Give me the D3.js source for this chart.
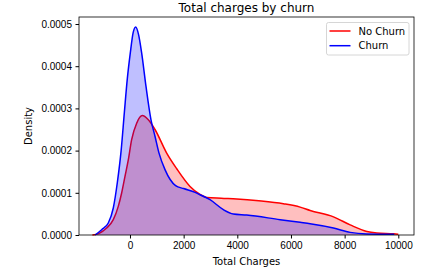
<!DOCTYPE html>
<html>
<head>
<meta charset="utf-8">
<script src="https://cdn.jsdelivr.net/npm/d3@7"></script>
<style>
  body { margin: 0; background: #fff; }
  svg { font-family: "DejaVu Sans", sans-serif; }
  .axis path, .axis line { stroke: #000; }
  .axis text { font-size: 10px; fill: #000; }
</style>
</head>
<body>
<div id="chart"></div>
<script>
// Total charges KDE by churn
var noChurnCharges = [-1400, -1150, -870, -622, -436, -311, -186, -63, 62, 249, 460, 683, 932, 1368, 1741, 2238, 2611, 2860, 3400, 3980, 4800, 5718, 6341, 6714, 7584, 8206, 8828, 9200, 9821, 10000];
var noChurnDensity = [0, 0.000004, 0.0000166, 0.0000363, 0.0000678, 0.0000995, 0.000139, 0.000178, 0.000226, 0.000265, 0.000283, 0.000273, 0.000250, 0.000194, 0.000157, 0.000115, 0.000096, 0.000089, 0.000087, 0.0000853, 0.000081, 0.000074, 0.000066, 0.000058, 0.000043, 0.000024, 0.0000085, 0.000005, 0.000003, 0.000002];

var churnCharges = [-1300, -1056, -808, -622, -470, -330, -210, -100, 11, 120, 212, 320, 436, 597, 783, 932, 1082, 1305, 1700, 2000, 2424, 2611, 2984, 3481, 3853, 4351, 5595, 6341, 6714, 7584, 8206, 8828, 9850];
var churnDensity = [0, 0.0000126, 0.0000284, 0.000064, 0.000125, 0.000200, 0.000290, 0.000370, 0.000431, 0.000480, 0.000493, 0.000475, 0.000431, 0.000352, 0.000273, 0.000234, 0.000194, 0.000155, 0.000117, 0.000110, 0.000101, 0.0000955, 0.0000836, 0.000060, 0.0000498, 0.0000474, 0.0000363, 0.000030, 0.0000268, 0.0000166, 0.0000062, 0.0000024, 0.0000015];

var seriesNames = ["No Churn", "Churn"];
var seriesColors = ["#ff0000", "#0000ff"];
var xTicks = [0, 2000, 4000, 6000, 8000, 10000];
var yTicks = [0, 0.0001, 0.0002, 0.0003, 0.0004, 0.0005];

var margin = {top: 17, right: 27, bottom: 40, left: 79},
    width = 441 - margin.left - margin.right,
    height = 275 - margin.top - margin.bottom;

var series = [
  {name: seriesNames[0], color: seriesColors[0],
   values: noChurnCharges.map(function(c, i) { return {x: c, y: noChurnDensity[i]}; })},
  {name: seriesNames[1], color: seriesColors[1],
   values: churnCharges.map(function(c, i) { return {x: c, y: churnDensity[i]}; })}
];

var x = d3.scaleLinear()
    .domain([-1900, 10585])
    .range([0, width]);

var y = d3.scaleLinear()
    .domain([0, 0.0005 * height / 211])
    .range([height, 0]);

var xAxis = d3.axisBottom(x)
    .tickValues(xTicks)
    .tickSize(3.5)
    .tickPadding(3.5)
    .tickFormat(d3.format("d"));

var yAxis = d3.axisLeft(y)
    .tickValues(yTicks)
    .tickSize(3.5)
    .tickPadding(3.5)
    .tickFormat(d3.format(".4f"));

var line = d3.line()
    .curve(d3.curveMonotoneX)
    .x(function(d) { return x(d.x); })
    .y(function(d) { return y(d.y); });

var area = d3.area()
    .curve(d3.curveMonotoneX)
    .x(function(d) { return x(d.x); })
    .y0(height)
    .y1(function(d) { return y(d.y); });

var svg = d3.select("#chart").append("svg")
    .attr("width", width + margin.left + margin.right)
    .attr("height", height + margin.top + margin.bottom)
  .append("g")
    .attr("transform", "translate(" + margin.left + "," + margin.top + ")");

series.forEach(function(s) {
  svg.append("path")
      .datum(s.values)
      .attr("fill", "none")
      .attr("stroke", s.color)
      .attr("stroke-width", 1.5)
      .attr("d", line);

  svg.append("path")
      .datum(s.values)
      .attr("fill", s.color)
      .attr("fill-opacity", 0.25)
      .attr("d", area);
});

svg.append("g")
    .attr("class", "x axis")
    .attr("transform", "translate(0," + height + ")")
    .call(xAxis)
    .call(function(g) { g.select(".domain").remove(); });

svg.append("g")
    .attr("class", "y axis")
    .call(yAxis)
    .call(function(g) { g.select(".domain").remove(); });

svg.append("rect")
    .attr("width", width)
    .attr("height", height)
    .attr("fill", "none")
    .attr("stroke", "#000")
    .attr("stroke-width", 0.8);

svg.append("text")
    .attr("x", width / 2)
    .attr("y", -5)
    .attr("text-anchor", "middle")
    .style("font-size", "12px")
    .text("Total charges by churn");

svg.append("text")
    .attr("x", width / 2)
    .attr("y", height + 30)
    .attr("text-anchor", "middle")
    .style("font-size", "10px")
    .text("Total Charges");

svg.append("text")
    .attr("transform", "rotate(-90)")
    .attr("x", -height / 2)
    .attr("y", -47)
    .attr("text-anchor", "middle")
    .style("font-size", "10px")
    .text("Density");

// legend
var legend = svg.append("g")
    .attr("transform", "translate(" + (width - 87.5) + ",5.5)");

legend.append("rect")
    .attr("width", 82.5)
    .attr("height", 32.5)
    .attr("rx", 2)
    .attr("fill", "#fff")
    .attr("fill-opacity", 0.8)
    .attr("stroke", "#ccc")
    .attr("stroke-width", 0.8);

series.forEach(function(s, i) {
  var row = legend.append("g")
      .attr("transform", "translate(0," + (8.5 + i * 14.7) + ")");
  row.append("line")
      .attr("x1", 3)
      .attr("x2", 24)
      .attr("stroke", s.color)
      .attr("stroke-width", 1.5);
  row.append("text")
      .attr("x", 32)
      .attr("dy", "0.35em")
      .style("font-size", "10px")
      .text(s.name);
});
</script>
</body>
</html>
